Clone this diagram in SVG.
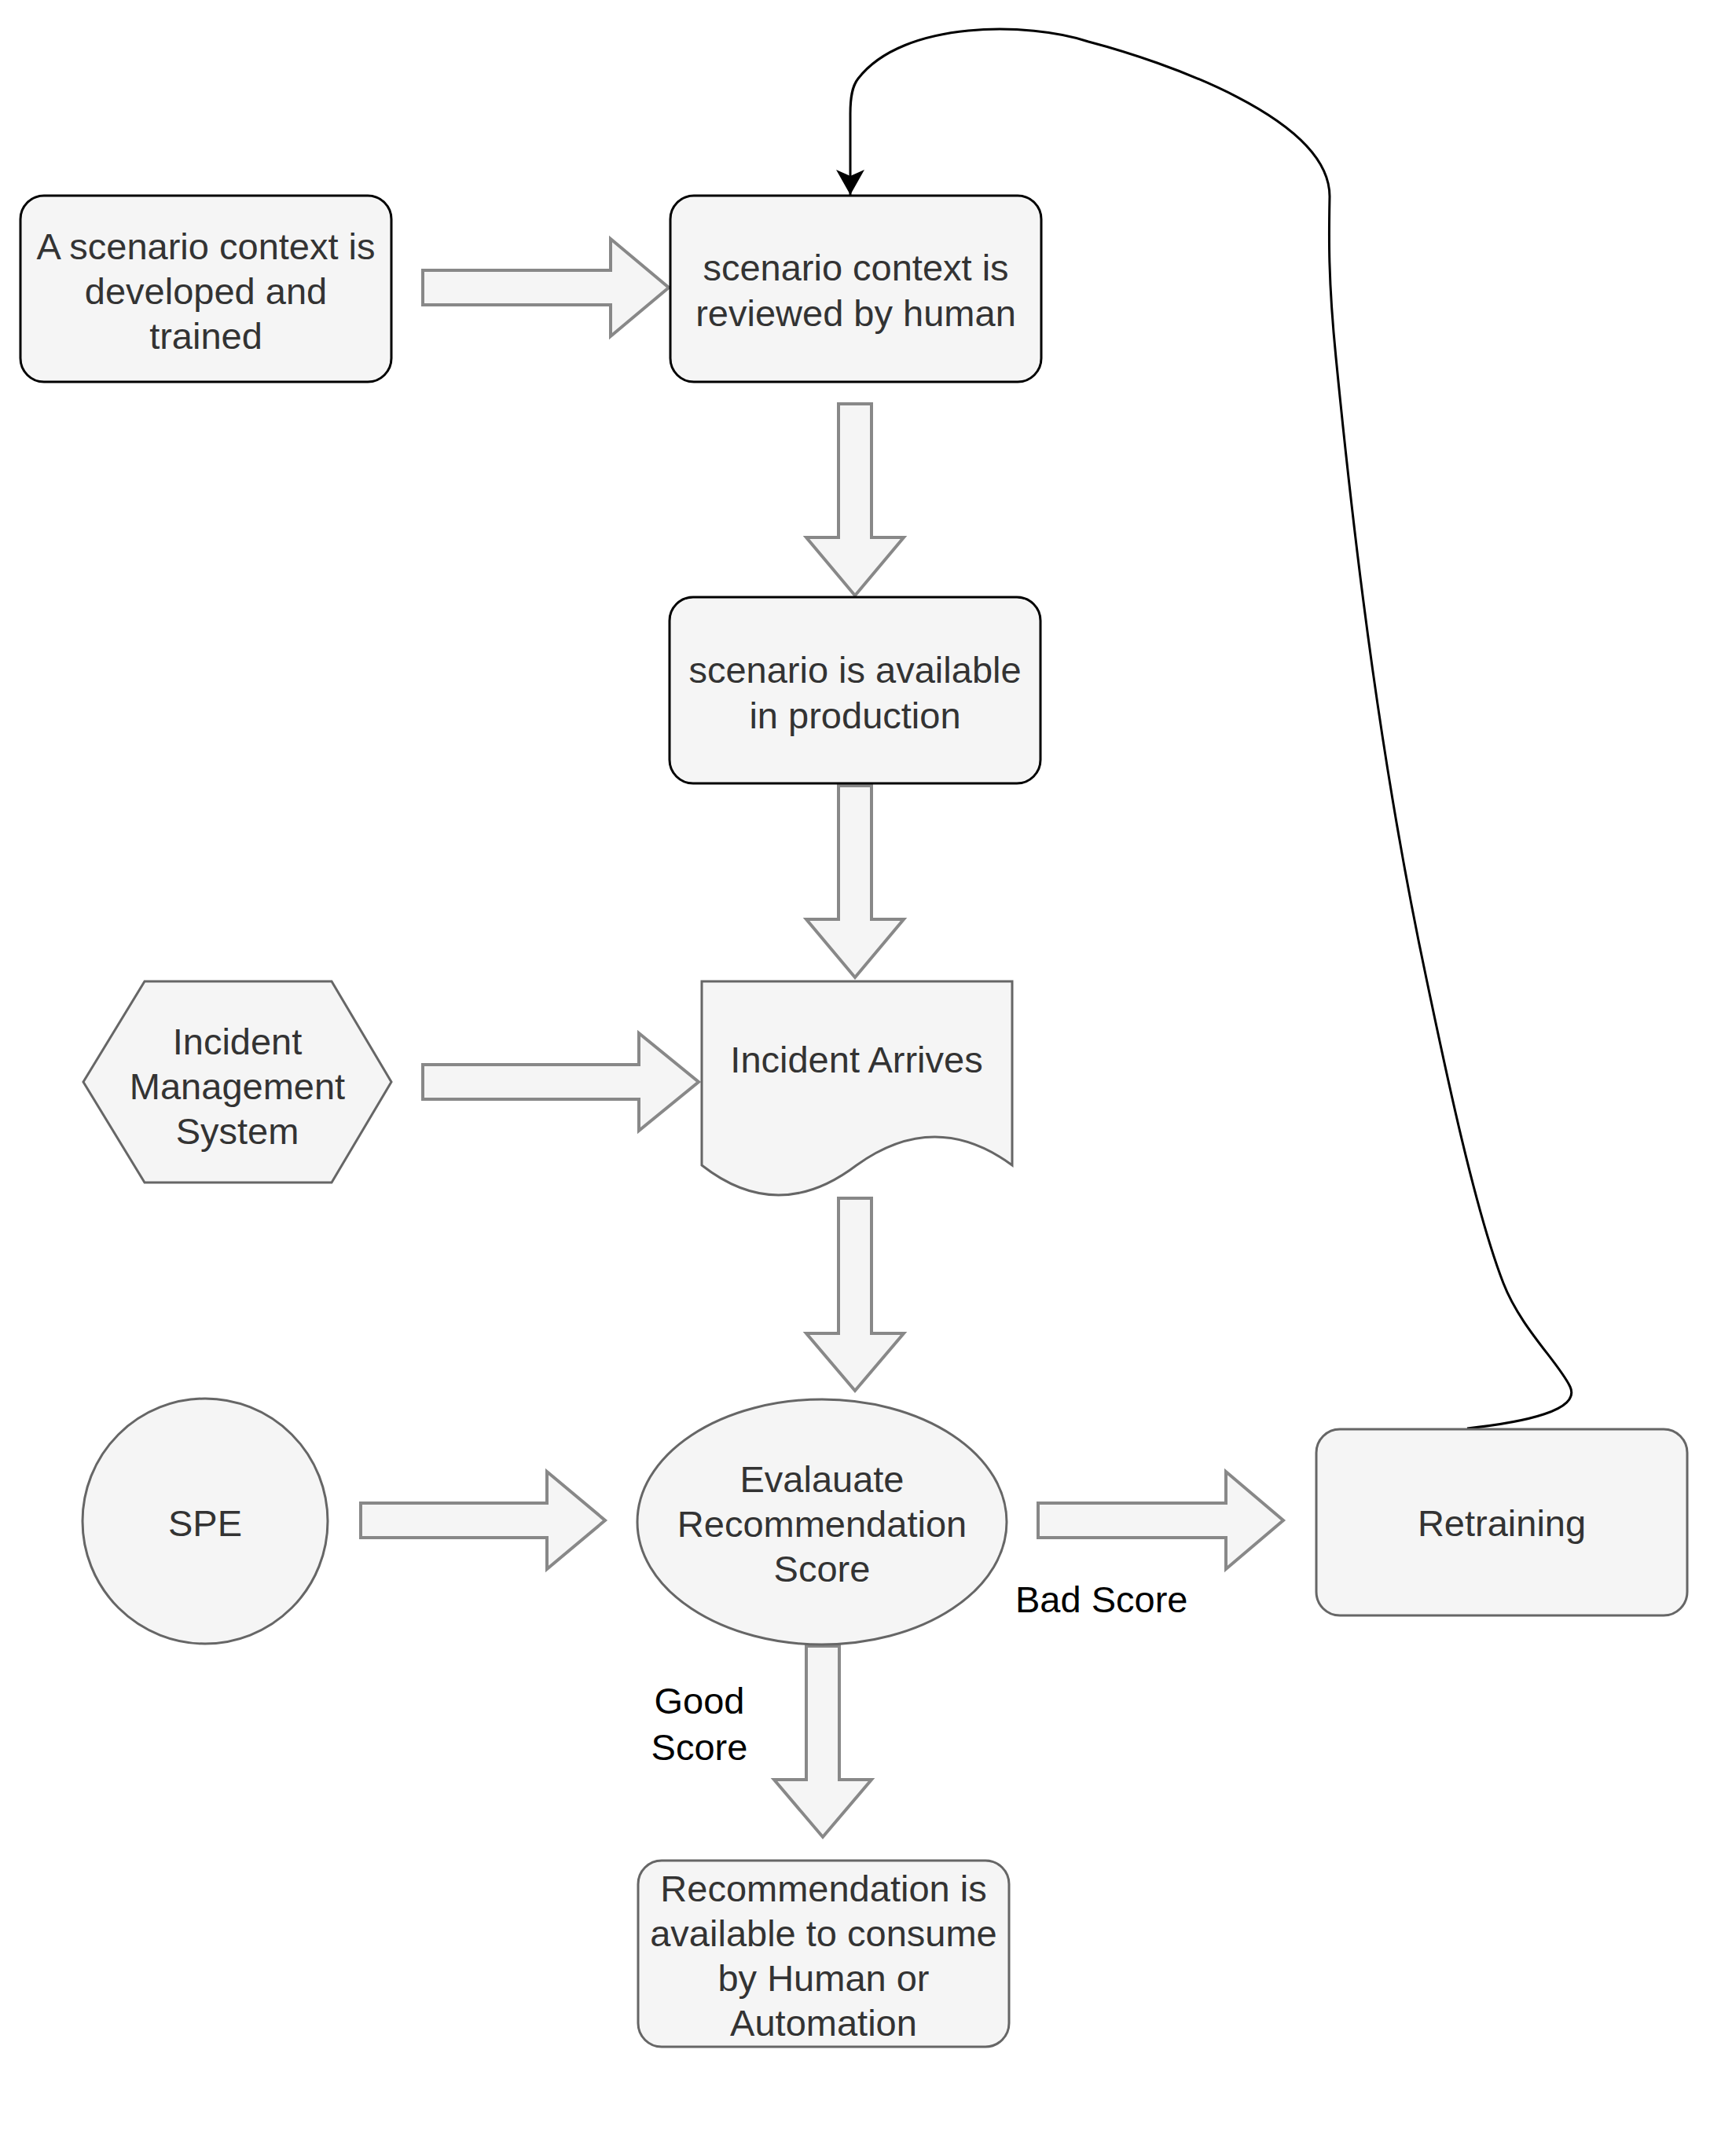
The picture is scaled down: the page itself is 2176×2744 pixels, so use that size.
<svg xmlns="http://www.w3.org/2000/svg" width="2176" height="2744" viewBox="0 0 2176 2744">
<style>
.nb{fill:#f5f5f5;stroke:#000;stroke-width:3}
.ng{fill:#f5f5f5;stroke:#666;stroke-width:3}
.ba{fill:#f5f5f5;stroke:#888;stroke-width:4;stroke-linejoin:miter}
.t{font-family:"Liberation Sans",Arial,sans-serif;font-size:47px;fill:#333;text-anchor:middle}
.l{font-family:"Liberation Sans",Arial,sans-serif;font-size:47px;fill:#000}
.c{fill:none;stroke:#000;stroke-width:3}
</style>
<defs>
<marker id="ah" markerUnits="userSpaceOnUse" viewBox="0 0 34 36" refX="32" refY="18" markerWidth="34" markerHeight="36" orient="auto">
<path d="M0,0 L32,18 L0,36 L8,18 Z" fill="#000"/>
</marker>
</defs>
<rect width="2176" height="2744" fill="#fff"/>
<g id="connectors">
<polygon class="ba" points="538,344 777,344 777,304 851,366 777,428 777,388 538,388"/>
<polygon class="ba" points="1067,514 1109,514 1109,684 1150,684 1088,758 1026,684 1067,684"/>
<polygon class="ba" points="1067,1000 1109,1000 1109,1170 1150,1170 1088,1244 1026,1170 1067,1170"/>
<polygon class="ba" points="538,1355 813,1355 813,1315 889,1377 813,1439 813,1399 538,1399"/>
<polygon class="ba" points="1067,1525 1109,1525 1109,1697 1150,1697 1088,1770 1026,1697 1067,1697"/>
<polygon class="ba" points="459,1913 696,1913 696,1873 770,1935 696,1997 696,1957 459,1957"/>
<polygon class="ba" points="1321,1913 1560,1913 1560,1873 1633,1935 1560,1997 1560,1957 1321,1957"/>
<polygon class="ba" points="1026,2095 1068,2095 1068,2265 1109,2265 1047,2338 985,2265 1026,2265"/>
<path class="c" marker-end="url(#ah)" d="M1867,1818 C1940,1810 2012,1795 1998,1765 C1984,1735 1935,1690 1913,1633 C1875,1535 1835,1340 1815,1245 C1760,986 1726,719 1700,455 C1690,355 1691,300 1692,250 C1692,150 1480,78 1385,53 C1310,28 1150,25 1092,100 C1084,110 1082,125 1082,145 L1082,248"/>
<text class="l" x="1292" y="2052">Bad Score</text>
<text class="l" x="890" y="2181" text-anchor="middle">Good</text>
<text class="l" x="890" y="2240" text-anchor="middle">Score</text>
</g>
<g id="n1">
<rect class="nb" x="26" y="249" width="472" height="237" rx="30"/>
<text class="t" x="262" y="330">A scenario context is</text>
<text class="t" x="262" y="387">developed and</text>
<text class="t" x="262" y="444">trained</text>
</g>
<g id="n2">
<rect class="nb" x="853" y="249" width="472" height="237" rx="30"/>
<text class="t" x="1089" y="357">scenario context is</text>
<text class="t" x="1089" y="415">reviewed by human</text>
</g>
<g id="n3">
<rect class="nb" x="852" y="760" width="472" height="237" rx="30"/>
<text class="t" x="1088" y="869">scenario is available</text>
<text class="t" x="1088" y="927">in production</text>
</g>
<g id="ims">
<polygon class="ng" points="184,1249 422,1249 498,1377 422,1505 184,1505 106,1377"/>
<text class="t" x="302" y="1342">Incident</text>
<text class="t" x="302" y="1399">Management</text>
<text class="t" x="302" y="1456">System</text>
</g>
<g id="incident">
<path class="ng" d="M893,1249 H1288 V1483 Q1190,1411 1090,1483 Q990,1559 893,1483 Z"/>
<text class="t" x="1090" y="1365">Incident Arrives</text>
</g>
<g id="spe">
<circle class="ng" cx="261" cy="1936" r="156"/>
<text class="t" x="261" y="1955">SPE</text>
</g>
<g id="evaluate">
<ellipse class="ng" cx="1046" cy="1937" rx="235" ry="156"/>
<text class="t" x="1046" y="1899">Evalauate</text>
<text class="t" x="1046" y="1956">Recommendation</text>
<text class="t" x="1046" y="2013">Score</text>
</g>
<g id="retraining">
<rect class="ng" x="1675" y="1819" width="472" height="237" rx="30"/>
<text class="t" x="1911" y="1955">Retraining</text>
</g>
<g id="recommendation">
<rect class="ng" x="812" y="2368" width="472" height="237" rx="30"/>
<text class="t" x="1048" y="2420">Recommendation is</text>
<text class="t" x="1048" y="2477">available to consume</text>
<text class="t" x="1048" y="2534">by Human or</text>
<text class="t" x="1048" y="2591">Automation</text>
</g>
</svg>
